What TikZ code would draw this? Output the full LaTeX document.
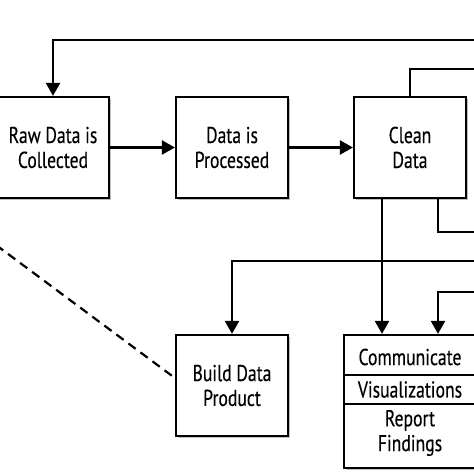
\documentclass[tikz,border=0pt]{standalone}
\usepackage{fontspec}
\setmainfont[FakeStretch=0.77,FakeBold=0.3]{PT Sans}
\usetikzlibrary{arrows.meta,shadows,calc}
\begin{document}
\begin{tikzpicture}[x=1bp,y=-1bp,
  line width=2.2bp,
  box/.style={draw, fill=white, minimum width=112bp, minimum height=101bp, inner sep=0pt,
    align=center, font=\fontsize{23}{25}\selectfont,
    drop shadow={shadow xshift=2bp, shadow yshift=-2bp, opacity=0.25, fill=black}},
  lbl/.style={inner sep=0pt, align=center, font=\fontsize{23}{25}\selectfont},
  arr/.style={-{Triangle[width=14bp,length=13bp]}},
  link/.style={line width=2.2bp}]
\useasboundingbox (0,0) rectangle (474,474);
\node[box] (raw) at (53,147.5) {Raw Data is\\Collected};
\node[box] (proc) at (232,147.5) {Data is\\Processed};
\node[box] (clean) at (410,147.5) {Clean\\Data};
\node[box] (build) at (232,385.5) {Build Data\\Product};
\node[box, minimum width=132bp, minimum height=133bp] (comm) at (410,401.5) {};
\node[lbl] (t1) at (410,357) {Communicate};
\node[lbl] (t2) at (410,389.5) {Visualizations};
\node[lbl] (t3) at (410,433) {Report\\Findings};
\draw[link] (344,375) -- (476,375);
\draw[link] (344,404) -- (476,404);
\coordinate (e1) at (476,40);
\coordinate (e2) at (476,69);
\coordinate (e3) at (476,232);
\coordinate (e4) at (476,261);
\coordinate (e5) at (476,292);
\coordinate (d0) at (-4,245);
\coordinate (c1) at (382,198);
\coordinate (c2) at (438,198);
\draw[arr] (e1) -| (raw.north);
\draw[arr] (raw.east) -- (proc.west);
\draw[arr] (proc.east) -- (clean.west);
\draw[link] (clean.north) |- (e2);
\draw[arr] (c1) -- (c1 |- comm.north);
\draw[link] (c2) |- (e3);
\draw[arr] (e4) -| (build.north);
\draw[arr] (e5) -| (c2 |- comm.north);
\draw[link, dash pattern=on 9bp off 6bp] (d0) -- ([yshift=7.5bp]build.west);
\end{tikzpicture}
\end{document}
